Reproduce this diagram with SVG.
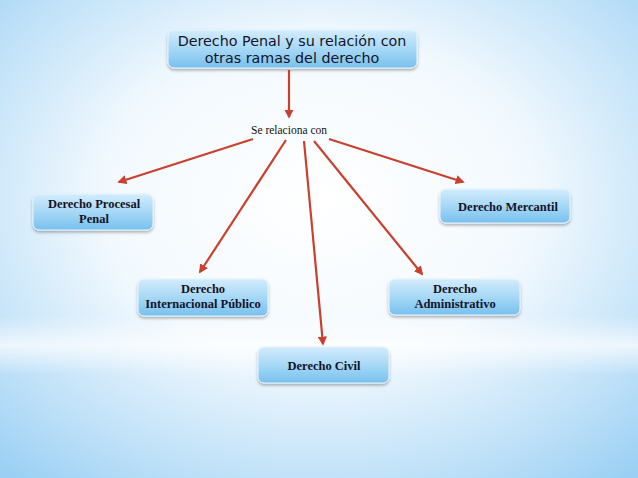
<svg xmlns="http://www.w3.org/2000/svg" width="638" height="478" viewBox="0 0 638 478">
<defs>
<radialGradient id="bg" cx="0.5" cy="0.42" r="0.75">
<stop offset="0" stop-color="#ffffff"/>
<stop offset="0.45" stop-color="#f2f9fe"/>
<stop offset="0.8" stop-color="#bde0f8"/>
<stop offset="1" stop-color="#9bd0f4"/>
</radialGradient>
<linearGradient id="band" x1="0" y1="0" x2="0" y2="1">
<stop offset="0" stop-color="#ffffff" stop-opacity="0"/>
<stop offset="0.5" stop-color="#ffffff" stop-opacity="0.7"/>
<stop offset="1" stop-color="#ffffff" stop-opacity="0"/>
</linearGradient>
<linearGradient id="box" x1="0" y1="0" x2="0" y2="1">
<stop offset="0" stop-color="#d3ecfc"/>
<stop offset="0.5" stop-color="#a6d8f6"/>
<stop offset="1" stop-color="#78c0ee"/>
</linearGradient>
<filter id="sh" x="-10%" y="-20%" width="120%" height="150%">
<feDropShadow dx="0" dy="2" stdDeviation="1.5" flood-color="#000" flood-opacity="0.3"/>
</filter>
<marker id="ah" viewBox="0 0 10 10" refX="8" refY="5" markerWidth="4.2" markerHeight="4.2" orient="auto">
<path d="M0,0 L10,5 L0,10 z" fill="#c8402e"/>
</marker>
<style>
.b{fill:url(#box);stroke:#e6f5ff;stroke-width:1;filter:url(#sh)}
.t{font-family:"DejaVu Sans",Verdana,sans-serif;font-size:14.3px;fill:#141428;text-anchor:middle}
.n{font-family:"Liberation Serif","Times New Roman",serif;font-size:12.5px;font-weight:bold;fill:#141428;text-anchor:middle}
.l{font-family:"Liberation Serif","Times New Roman",serif;font-size:11.5px;fill:#111;text-anchor:middle}
.c{stroke:#c8402e;stroke-width:2.2;fill:none;marker-end:url(#ah)}
</style>
</defs>
<rect width="638" height="478" fill="url(#bg)"/>
<rect y="315" width="638" height="60" fill="url(#band)"/>

<g id="title">
<rect class="b" x="168" y="30" width="249" height="38" rx="6"/>
<text class="t" x="292" y="46">Derecho Penal y su relación con</text>
<text class="t" x="292" y="63">otras ramas del derecho</text>
</g>

<g id="connectors">
<line class="c" x1="289" y1="70" x2="289" y2="117"/>
<line class="c" x1="253" y1="139" x2="119" y2="182"/>
<line class="c" x1="286" y1="140" x2="200" y2="272"/>
<line class="c" x1="304" y1="141" x2="323" y2="344"/>
<line class="c" x1="314" y1="141" x2="422" y2="274"/>
<line class="c" x1="329" y1="139" x2="463" y2="182"/>
</g>

<g id="label">
<text class="l" x="289" y="134">Se relaciona con</text>
</g>

<g id="procesal">
<rect class="b" x="33" y="194" width="120" height="36" rx="6"/>
<text class="n" x="94" y="208">Derecho Procesal</text>
<text class="n" x="94" y="223">Penal</text>
</g>

<g id="mercantil">
<rect class="b" x="440" y="189" width="130" height="34" rx="6"/>
<text class="n" x="508" y="211">Derecho Mercantil</text>
</g>

<g id="internacional">
<rect class="b" x="138" y="279" width="130" height="37" rx="6"/>
<text class="n" x="203" y="293">Derecho</text>
<text class="n" x="203" y="308">Internacional Público</text>
</g>

<g id="administrativo">
<rect class="b" x="389" y="279" width="131" height="36" rx="6"/>
<text class="n" x="455" y="293">Derecho</text>
<text class="n" x="455" y="308">Administrativo</text>
</g>

<g id="civil">
<rect class="b" x="258" y="347" width="131" height="36" rx="6"/>
<text class="n" x="324" y="370">Derecho Civil</text>
</g>
</svg>
